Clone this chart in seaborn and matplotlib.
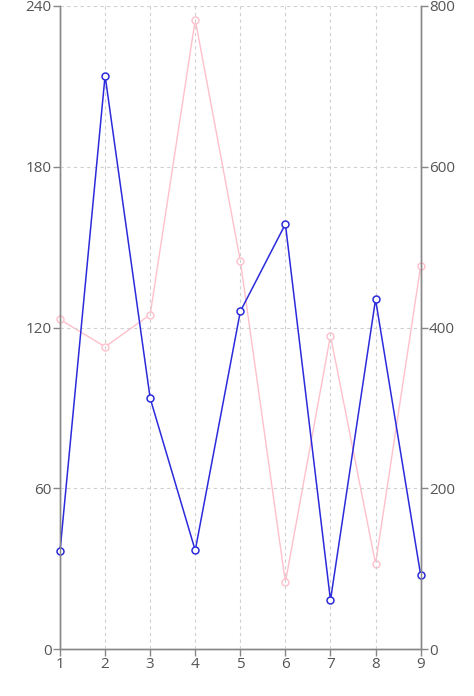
import pandas as pd
import seaborn as sns
import matplotlib.pyplot as plt

sns.set_theme(style="white")
plt.rcParams['font.family'] = ['Open Sans', 'DejaVu Sans']

# Data
x_vals = [1, 2, 3, 4, 5, 6, 7, 8, 9]
blue_vals = [36.5, 214, 93.6, 36.8, 126, 158.6, 18.2, 130.5, 27.7]
pink_vals = [410, 376, 416, 783, 483, 83, 390, 106, 476]

df = pd.DataFrame({"x": x_vals, "blue": blue_vals, "pink": pink_vals})

axis_color = "#888888"
text_color = "#555555"
grid_color = "#d0d0d0"

fig = plt.figure(figsize=(4.74, 6.96), dpi=100)
ax = fig.add_axes([0.1266, 0.0675, 0.7608, 0.9239])
ax2 = ax.twinx()

sns.lineplot(data=df, x="x", y="pink", ax=ax2, color="pink", linewidth=1.0,
             marker="o", markersize=5, markerfacecolor="white",
             markeredgecolor="pink", markeredgewidth=1.0, clip_on=False)
sns.lineplot(data=df, x="x", y="blue", ax=ax, color="#2b2bdc", linewidth=1.1,
             marker="o", markersize=5, markerfacecolor="white",
             markeredgecolor="#2b2bdc", markeredgewidth=1.1, clip_on=False)

# put the blue axis on top of the pink one
ax.set_zorder(ax2.get_zorder() + 1)
ax.patch.set_visible(False)

ax.set_xlim(1, 9)
ax.set_ylim(0, 240)
ax2.set_ylim(0, 800)
ax.set_xticks(x_vals)
ax.set_yticks([0, 60, 120, 180, 240])
ax2.set_yticks([0, 200, 400, 600, 800])

ax.grid(True, linestyle=(0, (3, 3)), color=grid_color, linewidth=0.8)
ax2.grid(False)

for a in (ax, ax2):
    a.set_xlabel("")
    a.set_ylabel("")
    a.spines["top"].set_visible(False)
    for s in ("left", "right", "bottom"):
        a.spines[s].set_color(axis_color)
        a.spines[s].set_linewidth(1.0)
    a.tick_params(colors=axis_color, labelcolor=text_color, labelsize=11,
                  length=5, width=1, direction="out", pad=1)

ax.tick_params(axis="y", left=True, right=False)
ax.tick_params(axis="x", bottom=True)
ax2.tick_params(axis="y", right=True, left=False)

fig.savefig("out.png", dpi=100)
